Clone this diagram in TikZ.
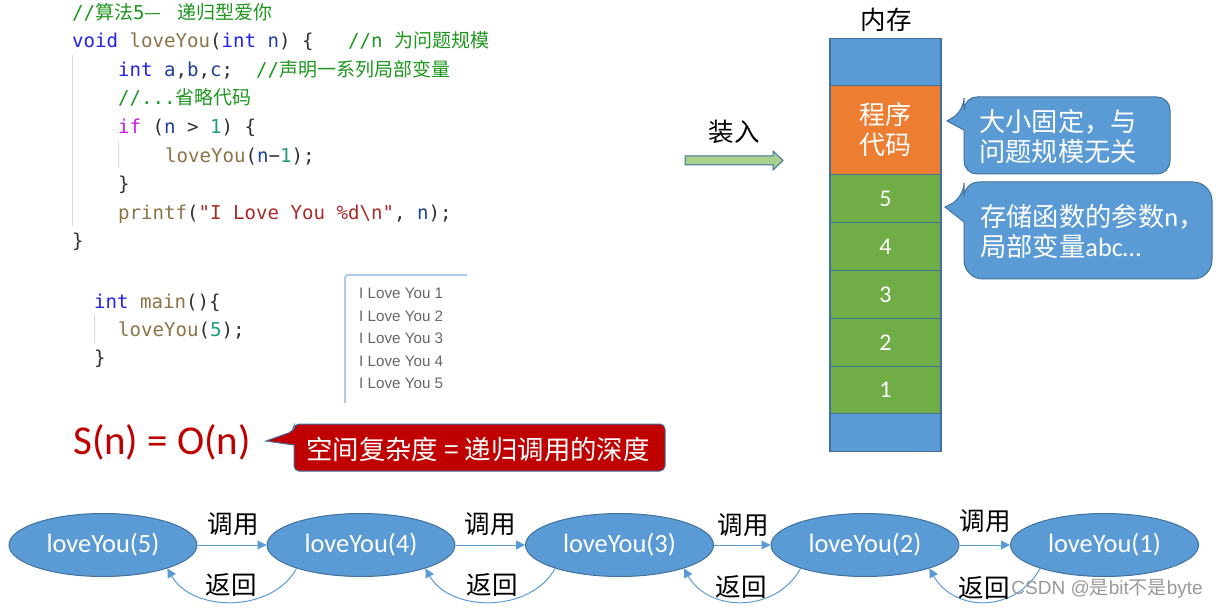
\documentclass[tikz,border=0pt]{standalone}
\usepackage{fontspec}
\setmainfont{Carlito}
\setmonofont{DejaVu Sans Mono}
\newfontfamily\cjk{Noto Sans CJK SC}
\newfontfamily\consolefont{Liberation Sans}
\usetikzlibrary{
    arrows.meta,
    shapes.geometric,
    positioning
}
\definecolor{lineblue}{HTML}{41719C}
\definecolor{fillblue}{HTML}{5B9BD5}
\definecolor{fillorange}{HTML}{ED7D31}
\definecolor{fillgreen}{HTML}{70AD47}
\definecolor{fillred}{HTML}{C00000}
\definecolor{arrowgreen}{HTML}{A9D18E}
\definecolor{codeblue}{HTML}{2222EE}
\definecolor{codebrown}{HTML}{8C7348}
\definecolor{codevar}{HTML}{1F3F99}
\definecolor{codegreen}{HTML}{1E961E}
\definecolor{codered}{HTML}{A82A2A}
\definecolor{codenum}{HTML}{1E9A7C}
\definecolor{codepink}{HTML}{C81EE0}
\definecolor{codedark}{HTML}{303030}
\newcommand{\cjktext}[1]{{\cjk\fontsize{19}{23}\selectfont #1}}
\newcommand{\kwd}[1]{\textcolor{codeblue}{#1}}
\newcommand{\fnc}[1]{\textcolor{codebrown}{#1}}
\newcommand{\vrb}[1]{\textcolor{codevar}{#1}}
\newcommand{\cmt}[1]{\textcolor{codegreen}{#1}}
\newcommand{\strg}[1]{\textcolor{codered}{#1}}
\newcommand{\numb}[1]{\textcolor{codenum}{#1}}
\tikzset{
    codeline/.style={anchor=base west, inner sep=0, text=codedark, font=\ttfamily\fontsize{19.1}{23}\selectfont},
    consoleline/.style={anchor=west, inner sep=0, text=black!60, font=\consolefont\fontsize{15.2}{18}\selectfont},
    guide/.style={draw=black!15, line width=1pt},
    cell/.style={draw=lineblue, line width=1.3pt, minimum width=111pt, inner sep=0, text=white, font=\fontsize{24}{28}\selectfont},
    tipbox/.style={fill=fillblue, draw=lineblue, line width=1pt},
    tiptext/.style={anchor=west, inner sep=0, align=left, text=white, font=\fontsize{26.3}{30}\selectfont},
    call/.style={ellipse, draw=lineblue, fill=fillblue, line width=1pt, minimum width=188pt, minimum height=63pt, inner sep=0, text=white, font=\fontsize{26.4}{30}\selectfont},
    blackword/.style={inner sep=0, text=black, font=\cjk\fontsize{25.5}{30}\selectfont},
    link/.style={draw=fillblue, line width=1pt, -{Triangle[length=9pt,width=9pt]}}
}
\begin{document}
\begin{tikzpicture}[x=1pt, y=-1pt]
    \useasboundingbox (0, 0) rectangle (1217, 609);

    \draw[guide] (72, 55) -- (72, 226);
    \draw[guide] (118, 141) -- (118, 168);
    \draw[guide] (94, 315) -- (94, 343);
    \node[codeline] (line1) at (72, 20) {\cmt{//\cjktext{算法}5\cjktext{—}~\hspace{4pt}\cjktext{递归型爱你}}};
    \node[codeline] (line2) at (72, 48) {\kwd{void} \fnc{loveYou}(\kwd{int} \vrb{n}) \{~~~\cmt{//n \cjktext{为问题规模}}};
    \node[codeline] (line3) at (118, 77) {\kwd{int} \vrb{a},\vrb{b},\vrb{c};~~\cmt{//\cjktext{声明一系列局部变量}}};
    \node[codeline] (line4) at (118, 105) {\cmt{//...\cjktext{省略代码}}};
    \node[codeline] (line5) at (118, 134) {\textcolor{codepink}{if} (\vrb{n} > \numb{1}) \{};
    \node[codeline] (line6) at (165, 163) {\fnc{loveYou}(\vrb{n}−\numb{1});};
    \node[codeline] (line7) at (118, 191) {\}};
    \node[codeline] (line8) at (118, 220) {\fnc{printf}(\strg{"I Love You \%d\textbackslash n"}, \vrb{n});};
    \node[codeline] (line9) at (72, 248) {\}};
    \node[codeline] (main1) at (94, 308.5) {\kwd{int} \fnc{main}()\{};
    \node[codeline] (main2) at (118, 336.5) {\fnc{loveYou}(\numb{5});};
    \node[codeline] (main3) at (94, 364.5) {\}};

    \draw[draw=fillblue!50, line width=2pt, rounded corners=3pt] (467, 275) -- (345, 275) -- (345, 403);
    \node[consoleline] (out1) at (359, 293.5) {I Love You 1};
    \node[consoleline] (out2) at (359, 316) {I Love You 2};
    \node[consoleline] (out3) at (359, 338.5) {I Love You 3};
    \node[consoleline] (out4) at (359, 361) {I Love You 4};
    \node[consoleline] (out5) at (359, 383.5) {I Love You 5};

    \node[anchor=west, inner sep=0, text=fillred, font=\fontsize{41}{48}\selectfont] (space) at (73, 442) {S(n) = O(n)};
    \draw[fill=fillred, draw=lineblue, line width=1pt] [rounded corners=5pt] (450, 424) -- (294, 424) -- (294, 431) [sharp corners] -- (266, 441) -- (294, 445) [rounded corners=5pt] -- (294, 471) -- (665, 471) -- (665, 424) -- cycle;
    \node[inner sep=0, text=white, font=\cjk\fontsize{26.4}{30}\selectfont] (spacetip) at (478, 449) {空间复杂度 = 递归调用的深度};

    \draw[fill=arrowgreen, draw=lineblue, line width=1pt] (685, 156) -- (773, 156) -- (773, 151) -- (783, 160.5) -- (773, 170) -- (773, 165) -- (685, 165) -- cycle;
    \node[blackword] (load) at (734, 132) {装入};
    \node[blackword] (memory) at (886, 20) {内存};

    \node[cell, fill=fillblue, minimum height=47pt] (top) at (885.5, 62) {};
    \node[cell, fill=fillorange, minimum height=89pt, align=center, font=\cjk\fontsize{26}{30}\selectfont] (code) at (885.5, 130) {程序\\代码};
    \node[cell, fill=fillgreen, minimum height=48pt] (frame5) at (885.5, 198.5) {5};
    \node[cell, fill=fillgreen, minimum height=48pt] (frame4) at (885.5, 246.5) {4};
    \node[cell, fill=fillgreen, minimum height=48pt] (frame3) at (885.5, 294.5) {3};
    \node[cell, fill=fillgreen, minimum height=48pt] (frame2) at (885.5, 342.5) {2};
    \node[cell, fill=fillgreen, minimum height=47pt] (frame1) at (885.5, 390) {1};
    \node[cell, fill=fillblue, minimum height=38pt] (bottom) at (885.5, 432.5) {};

    \draw[tipbox] [rounded corners=13pt] (1060, 97) -- (964, 97) -- (964, 111) [sharp corners] -- (947, 121) -- (964, 130) [rounded corners=13pt] -- (964, 174) -- (1170, 174) -- (1170, 97) -- cycle;
    \node[tiptext] (fixedtip) at (979, 136) {{\cjk 大小固定，与}\\{\cjk 问题规模无关}};
    \draw[tipbox] [rounded corners=15pt] (1090, 182) -- (964, 182) -- (964, 198) [sharp corners] -- (945, 207) -- (964, 222) [rounded corners=19pt] -- (964, 279) -- (1212, 279) -- (1212, 182) -- cycle;
    \node[tiptext] (paramtip) at (980, 231) {{\cjk 存储函数的参数}n{\cjk ，}\\{\cjk 局部变量}abc…};

    \node[call] (call5) at (103, 545) {loveYou(5)};
    \node[call] (call4) at (361, 545) {loveYou(4)};
    \node[call] (call3) at (619.5, 545) {loveYou(3)};
    \node[call] (call2) at (865, 545) {loveYou(2)};
    \node[call] (call1) at (1104.5, 545) {loveYou(1)};

    \draw[link] (call5) -- (call4);
    \draw[link] (call4) -- (call3);
    \draw[link] (call3) -- (call2);
    \draw[link] (call2) -- (call1);
    \draw[link] (call4.200) .. controls +(-25, 45) and +(25, 44) .. (call5.-20);
    \draw[link] (call3.200) .. controls +(-25, 45) and +(25, 44) .. (call4.-20);
    \draw[link] (call2.200) .. controls +(-25, 45) and +(25, 44) .. (call3.-20);
    \draw[link] (call1.200) .. controls +(-25, 45) and +(25, 44) .. (call2.-20);

    \node[blackword] (call54) at (233, 524) {调用};
    \node[blackword] (call43) at (490, 524) {调用};
    \node[blackword] (call32) at (743, 525) {调用};
    \node[blackword] (call21) at (985, 521) {调用};
    \node[blackword] (back45) at (231, 585) {返回};
    \node[blackword] (back34) at (492, 585) {返回};
    \node[blackword] (back23) at (741, 587) {返回};
    \node[blackword] (back12) at (984, 588) {返回};
    \node[anchor=east, inner sep=0, text=black!40, font=\consolefont\fontsize{19}{23}\selectfont] (mark) at (1203, 589) {CSDN @{\cjk 是}bit{\cjk 不是}byte};
\end{tikzpicture}
\end{document}
